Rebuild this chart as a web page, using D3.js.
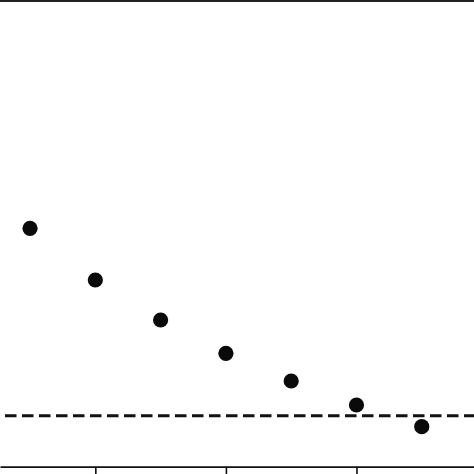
<!DOCTYPE html>
<html><head><meta charset="utf-8">
<script src="https://cdn.jsdelivr.net/npm/d3@7"></script>
<style>html,body{margin:0;padding:0;background:#fff;overflow:hidden}</style>
</head><body>
<script>
const xValues = [1, 2, 3, 4, 5, 6, 7];
const yValues = [1.874, 1.357, 0.957, 0.624, 0.347, 0.107, -0.11];
const refValue = [0];
const xTicks = [2, 4, 6];

const W = 474, H = 474;
const svg = d3.select("body").append("svg").attr("width", W).attr("height", H);

const x = d3.scaleLinear().domain([0.54, 7.8]).range([0, W]);
const y = d3.scaleLinear().domain([-0.51, 4.147]).range([466.7, 1]);

// top frame line
svg.append("line").attr("x1", 0).attr("x2", W).attr("y1", 1).attr("y2", 1)
  .attr("stroke", "#222").attr("stroke-width", 2.2);

// bottom axis
const ax = svg.append("g").attr("transform", `translate(0,${y(-0.51)})`)
  .call(d3.axisBottom(x).tickValues(xTicks).tickSize(9).tickSizeOuter(0).tickFormat(""));
ax.select(".domain").attr("stroke", "#111").attr("stroke-width", 1.8);
ax.selectAll(".tick line").attr("stroke", "#111").attr("stroke-width", 1.6);

// dashed reference line
svg.selectAll(".ref").data(refValue).enter().append("line")
  .attr("x1", 5).attr("x2", W).attr("y1", d => y(d)).attr("y2", d => y(d))
  .attr("stroke", "#111").attr("stroke-width", 3).attr("stroke-dasharray", "11.5,5.5");

// points
svg.selectAll(".pt").data(xValues.map((v, i) => [v, yValues[i]])).enter().append("circle")
  .attr("cx", d => x(d[0])).attr("cy", d => y(d[1])).attr("r", 7.6).attr("fill", "#0a0a0a");
</script>
</body></html>
